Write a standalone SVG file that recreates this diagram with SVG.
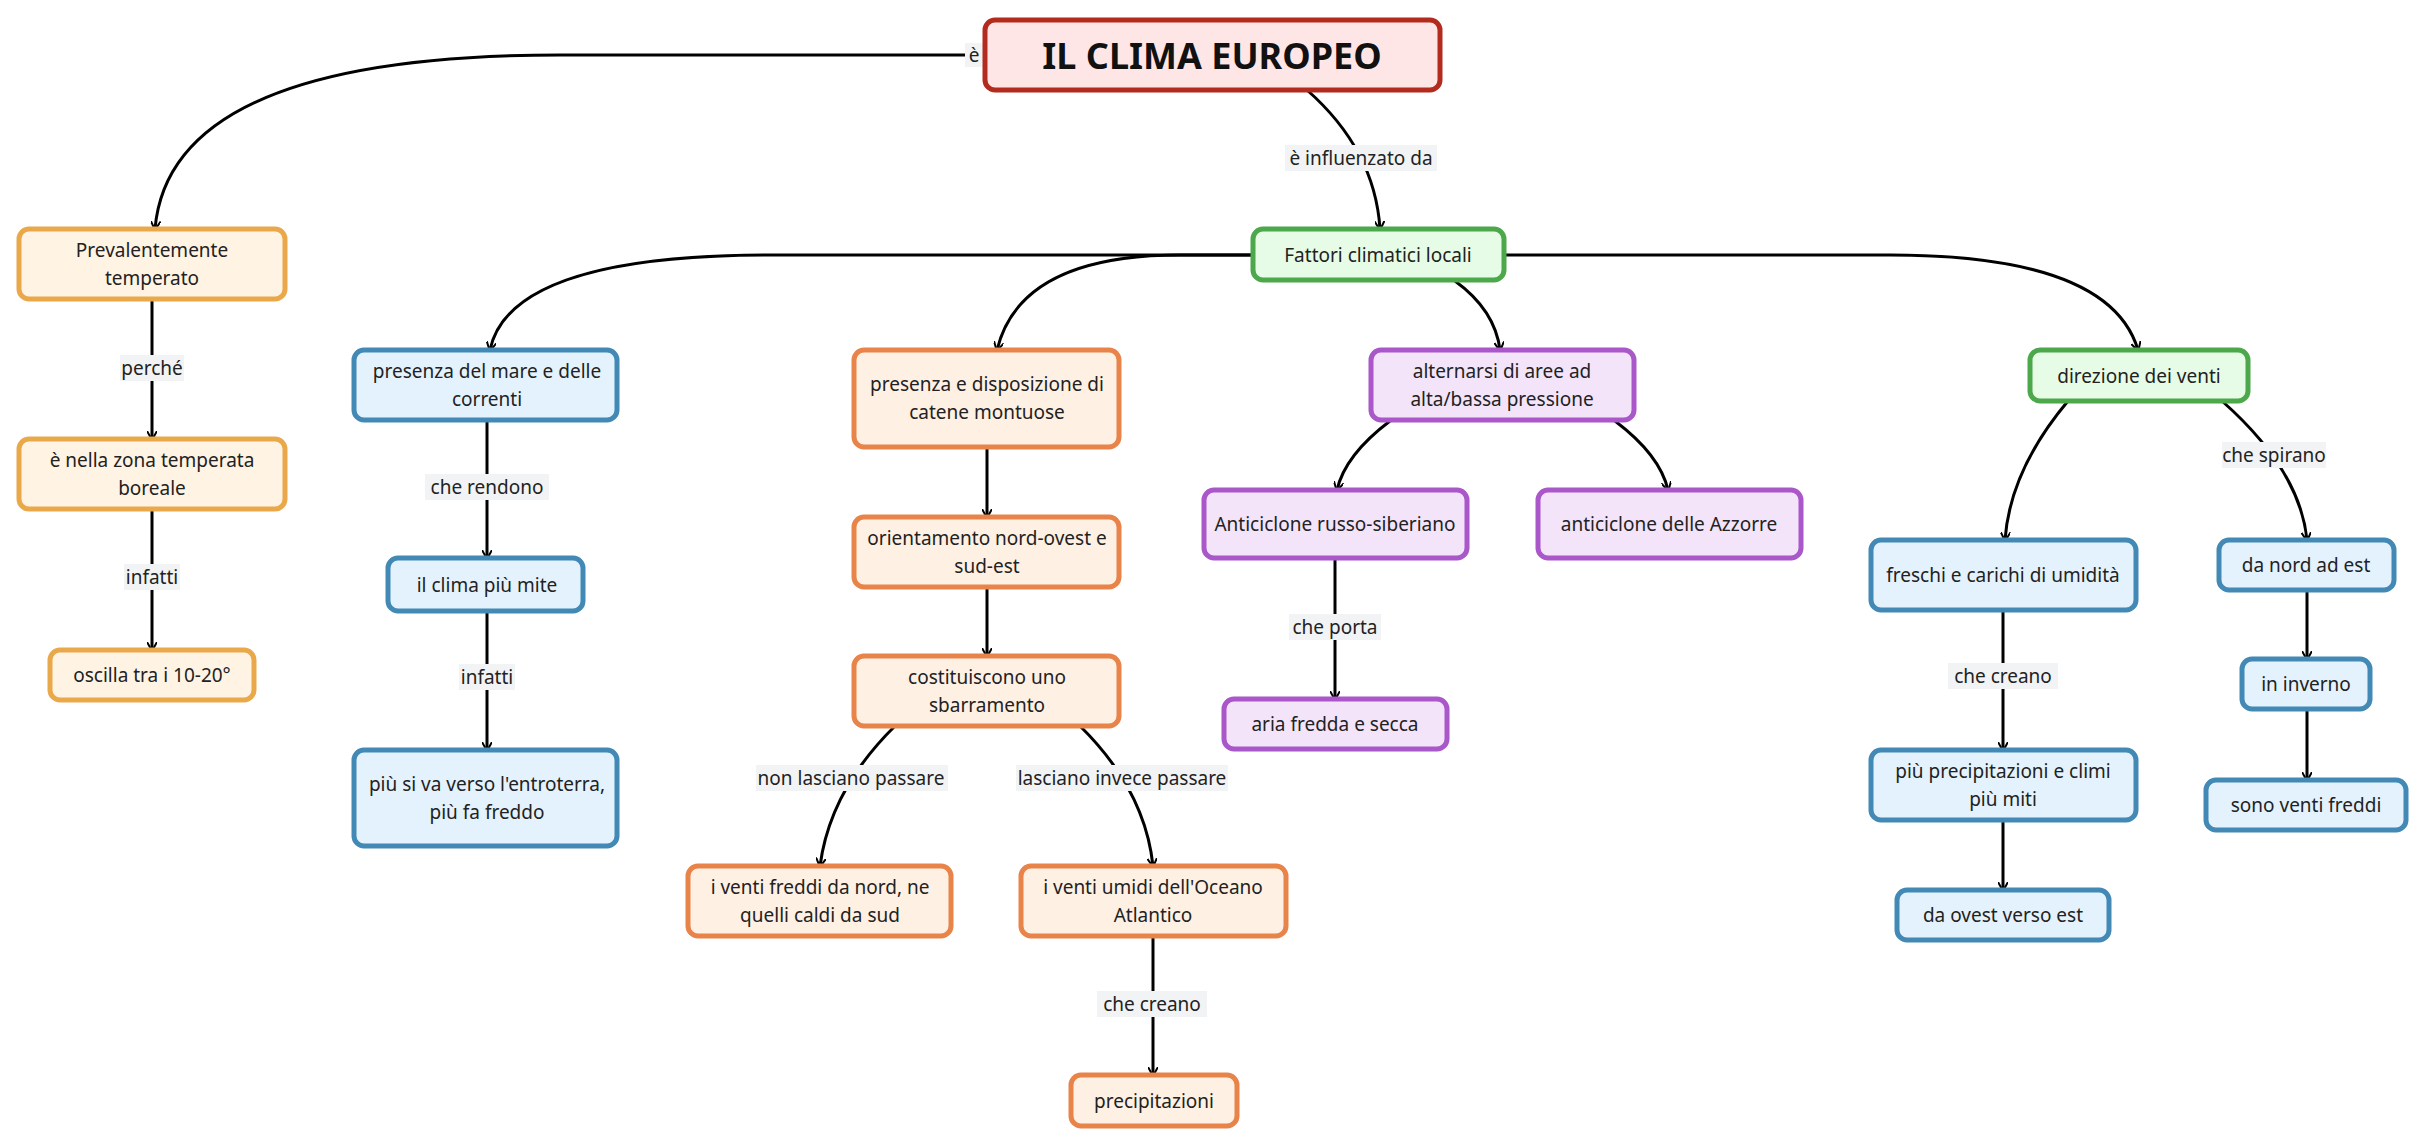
<svg xmlns="http://www.w3.org/2000/svg" width="2426" height="1147" viewBox="0 0 2426 1147">
<style>
text{font-family:"Noto Sans","Liberation Sans",sans-serif;font-size:19px;fill:#222;text-anchor:middle;dominant-baseline:central}
.n rect{stroke-width:5}
.y rect{stroke:#E9A94B;fill:#FFF3E4}
.b rect{stroke:#4289B5;fill:#E4F2FD}
.o rect{stroke:#E8834A;fill:#FFF0E4}
.p rect{stroke:#A957C9;fill:#F3E4FA}
.g rect{stroke:#4DA84C;fill:#E6FCE6}
.r rect{stroke:#B32A1F;fill:#FFE6E6}
.c path{fill:none;stroke:#000;stroke-width:3;marker-end:url(#a)}
.l rect{fill:#F1F3F5}
</style>
<defs><marker id="a" markerWidth="10" markerHeight="10" refX="8" refY="5" orient="auto" markerUnits="userSpaceOnUse"><path d="M0,0 L9,5 L0,10" fill="none" stroke="#000" stroke-width="2"/></marker></defs>
<g class="c" id="connectors">
<path d="M985,55 L560,55 Q170,55 155,229"/>
<path d="M1307,90 Q1375,150 1380,229"/>
<path d="M152,299 L152,439"/>
<path d="M152,509 L152,650"/>
<path d="M1253,255 L770,255 Q510,255 490,350"/>
<path d="M1253,255 L1180,255 Q1020,255 997,350"/>
<path d="M1455,281 Q1495,310 1500,350"/>
<path d="M1504,255 L1890,255 Q2110,255 2138,350"/>
<path d="M487,420 L487,558"/>
<path d="M487,611 L487,750"/>
<path d="M987,447 L987,517"/>
<path d="M987,587 L987,656"/>
<path d="M895,726 Q830,790 820,866"/>
<path d="M1080,726 Q1145,790 1153,866"/>
<path d="M1153,936 L1153,1075"/>
<path d="M1390,421 Q1345,455 1337,490"/>
<path d="M1615,421 Q1660,455 1668,490"/>
<path d="M1335,558 L1335,699"/>
<path d="M2068,401 Q2010,470 2005,540"/>
<path d="M2222,401 Q2300,470 2307,540"/>
<path d="M2003,610 L2003,750"/>
<path d="M2003,820 L2003,890"/>
<path d="M2307,590 L2307,659"/>
<path d="M2307,709 L2307,780"/>
</g>
<g class="l" id="labels">
<rect x="965" y="43" width="18" height="24"/><text x="974" y="55">è</text>
<rect x="1285" y="145" width="152" height="26"/><text x="1361" y="158">è influenzato da</text>
<rect x="120" y="355" width="64" height="26"/><text x="152" y="368">perché</text>
<rect x="124" y="564" width="56" height="26"/><text x="152" y="577">infatti</text>
<rect x="425" y="474" width="124" height="26"/><text x="487" y="487">che rendono</text>
<rect x="459" y="664" width="56" height="26"/><text x="487" y="677">infatti</text>
<rect x="756" y="765" width="192" height="26"/><text x="851" y="778">non lasciano passare</text>
<rect x="1016" y="765" width="212" height="26"/><text x="1122" y="778">lasciano invece passare</text>
<rect x="1097" y="991" width="110" height="26"/><text x="1152" y="1004">che creano</text>
<rect x="1289" y="614" width="92" height="26"/><text x="1335" y="627">che porta</text>
<rect x="1948" y="663" width="110" height="26"/><text x="2003" y="676">che creano</text>
<rect x="2222" y="442" width="104" height="26"/><text x="2274" y="455">che spirano</text>
</g>
<g id="n1" class="n r"><rect x="985" y="20" width="455" height="70" rx="10"/><text x="1212" y="55" style="font-size:36px;font-weight:bold;fill:#111">IL CLIMA EUROPEO</text></g>
<g id="n2" class="n y"><rect x="19" y="229" width="266" height="70" rx="10"/><text x="152" y="250">Prevalentemente</text><text x="152" y="278">temperato</text></g>
<g id="n3" class="n y"><rect x="19" y="439" width="266" height="70" rx="10"/><text x="152" y="460">è nella zona temperata</text><text x="152" y="488">boreale</text></g>
<g id="n4" class="n y"><rect x="50" y="650" width="204" height="50" rx="10"/><text x="152" y="675">oscilla tra i 10-20°</text></g>
<g id="n5" class="n b"><rect x="354" y="350" width="263" height="70" rx="10"/><text x="487" y="371">presenza del mare e delle</text><text x="487" y="399">correnti</text></g>
<g id="n6" class="n b"><rect x="388" y="558" width="195" height="53" rx="10"/><text x="487" y="585">il clima più mite</text></g>
<g id="n7" class="n b"><rect x="354" y="750" width="263" height="96" rx="10"/><text x="487" y="784">più si va verso l'entroterra,</text><text x="487" y="812">più fa freddo</text></g>
<g id="n8" class="n o"><rect x="854" y="350" width="265" height="97" rx="10"/><text x="987" y="384">presenza e disposizione di</text><text x="987" y="412">catene montuose</text></g>
<g id="n9" class="n o"><rect x="854" y="517" width="265" height="70" rx="10"/><text x="987" y="538">orientamento nord-ovest e</text><text x="987" y="566">sud-est</text></g>
<g id="n10" class="n o"><rect x="854" y="656" width="265" height="70" rx="10"/><text x="987" y="677">costituiscono uno</text><text x="987" y="705">sbarramento</text></g>
<g id="n11" class="n o"><rect x="688" y="866" width="263" height="70" rx="10"/><text x="820" y="887">i venti freddi da nord, ne</text><text x="820" y="915">quelli caldi da sud</text></g>
<g id="n12" class="n o"><rect x="1021" y="866" width="265" height="70" rx="10"/><text x="1153" y="887">i venti umidi dell'Oceano</text><text x="1153" y="915">Atlantico</text></g>
<g id="n13" class="n o"><rect x="1071" y="1075" width="166" height="51" rx="10"/><text x="1154" y="1101">precipitazioni</text></g>
<g id="n14" class="n g"><rect x="1253" y="229" width="251" height="51" rx="10"/><text x="1378" y="255">Fattori climatici locali</text></g>
<g id="n15" class="n p"><rect x="1371" y="350" width="263" height="70" rx="10"/><text x="1502" y="371">alternarsi di aree ad</text><text x="1502" y="399">alta/bassa pressione</text></g>
<g id="n16" class="n p"><rect x="1204" y="490" width="263" height="68" rx="10"/><text x="1335" y="524">Anticiclone russo-siberiano</text></g>
<g id="n17" class="n p"><rect x="1538" y="490" width="263" height="68" rx="10"/><text x="1669" y="524">anticiclone delle Azzorre</text></g>
<g id="n18" class="n p"><rect x="1224" y="699" width="223" height="50" rx="10"/><text x="1335" y="724">aria fredda e secca</text></g>
<g id="n19" class="n g"><rect x="2030" y="350" width="218" height="51" rx="10"/><text x="2139" y="376">direzione dei venti</text></g>
<g id="n20" class="n b"><rect x="1871" y="540" width="265" height="70" rx="10"/><text x="2003" y="575">freschi e carichi di umidità</text></g>
<g id="n21" class="n b"><rect x="1871" y="750" width="265" height="70" rx="10"/><text x="2003" y="771">più precipitazioni e climi</text><text x="2003" y="799">più miti</text></g>
<g id="n22" class="n b"><rect x="1897" y="890" width="212" height="50" rx="10"/><text x="2003" y="915">da ovest verso est</text></g>
<g id="n23" class="n b"><rect x="2219" y="540" width="175" height="50" rx="10"/><text x="2306" y="565">da nord ad est</text></g>
<g id="n24" class="n b"><rect x="2242" y="659" width="128" height="50" rx="10"/><text x="2306" y="684">in inverno</text></g>
<g id="n25" class="n b"><rect x="2206" y="780" width="200" height="50" rx="10"/><text x="2306" y="805">sono venti freddi</text></g>
</svg>
